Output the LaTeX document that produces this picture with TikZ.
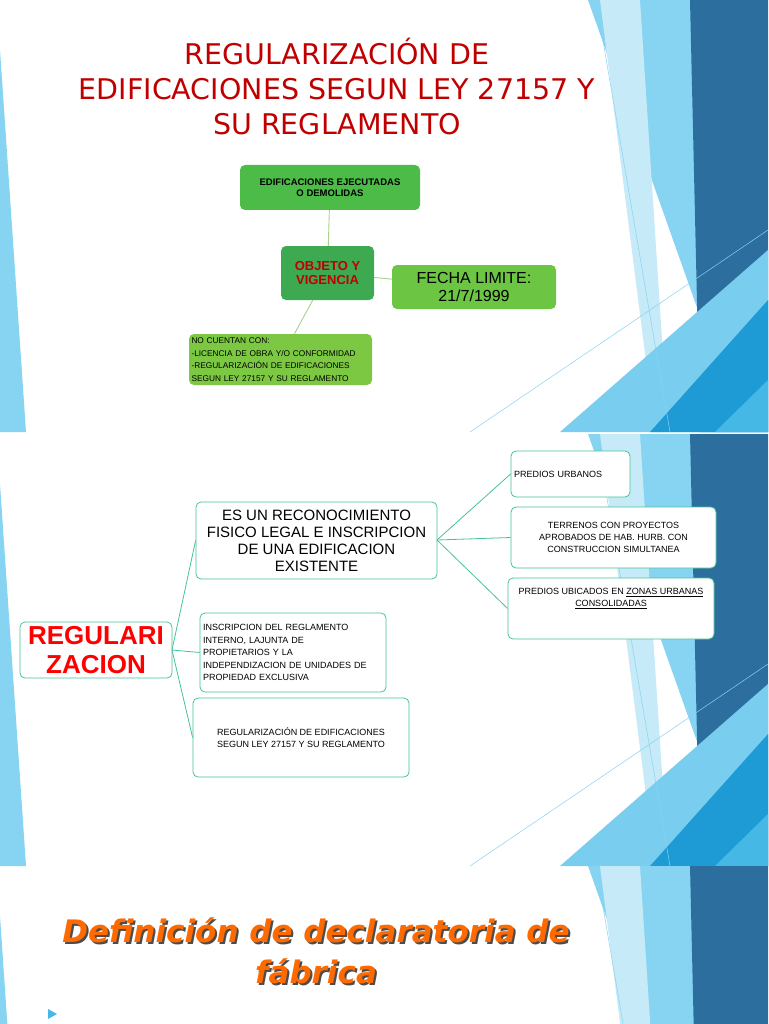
\documentclass[tikz,border=0pt]{standalone}
\usepackage{fontspec}
\setmainfont{Liberation Sans}
\newfontfamily\djf{DejaVu Sans}
\definecolor{lb}{HTML}{86D3F2}
\definecolor{pb}{HTML}{C6EAF8}
\definecolor{db}{HTML}{2C6E9E}
\definecolor{mb}{HTML}{45B8E6}
\definecolor{bb}{HTML}{1E9BD4}
\definecolor{tred}{HTML}{C00000}
\definecolor{g1}{HTML}{4CBB47}
\definecolor{g2}{HTML}{3DAA52}
\definecolor{g3}{HTML}{6CC644}
\definecolor{g4}{HTML}{7DC843}
\definecolor{gl}{HTML}{A8D08D}
\definecolor{teal}{HTML}{46C39A}
\definecolor{org}{HTML}{FF6A00}
\tikzset{
 gbox/.style={rounded corners=5pt,draw=none,inner sep=2pt,align=center},
 wbox/.style={rounded corners=5pt,draw=teal,line width=0.8pt,fill=white,inner sep=3pt},
 gcon/.style={draw=gl,line width=0.9pt},
 tcon/.style={draw=teal,line width=0.8pt},
 dtitle/.style={align=center,font=\djf\bfseries\itshape\fontsize{31}{41}\selectfont},
}
\newcommand{\deco}[2]{%
 \begin{scope}[yshift=#1*-1pt]
 \clip (0,0) rectangle (768,#2);
 \fill[lb] (0,50) -- (0,432) -- (26,432) -- cycle;
 \fill[lb] (588,0) -- (692,0) -- (705,330) -- cycle;
 \fill[pb] (600,0) -- (640,0) -- (668,432) -- (655,432) -- cycle;
 \fill[db] (690,0) -- (768,0) -- (768,432) -- (700,432) -- cycle;
 \fill[lb!80!mb] (560,432) -- (768,432) -- (768,250) -- cycle;
 \fill[bb] (650,432) -- (768,432) -- (768,300) -- cycle;
 \fill[mb] (715,432) -- (768,432) -- (768,380) -- cycle;
 \draw[lb,line width=0.5pt] (470,432) -- (768,230);
 \draw[lb,line width=0.5pt] (596,0) -- (670,432);
 \end{scope}}
\begin{document}
\begin{tikzpicture}[x=1pt,y=-1pt]
\useasboundingbox (0,0) rectangle (768,1024);
\fill[white] (0,0) rectangle (768,1024);
\deco{0}{432}
\deco{434}{432}
\deco{866}{158}
% slide 1
\node[text=tred,align=center,font=\djf\fontsize{28.5}{35}\selectfont] (title) at (337,86)
 {REGULARIZACIÓN DE\\EDIFICACIONES SEGUN LEY 27157 Y\\SU REGLAMENTO};
\node[gbox,fill=g1,minimum width=180pt,minimum height=45pt,font=\bfseries\fontsize{9.5}{11}\selectfont] (ed) at (330,187.5)
 {EDIFICACIONES EJECUTADAS\\O DEMOLIDAS};
\node[gbox,fill=g2,minimum width=93pt,minimum height=54pt,text=tred,font=\bfseries\fontsize{13}{14}\selectfont] (ob) at (327.5,273)
 {OBJETO Y\\VIGENCIA};
\node[gbox,fill=g3,minimum width=164pt,minimum height=44pt,font=\fontsize{16}{18}\selectfont] (fe) at (474,287)
 {FECHA LIMITE:\\21/7/1999};
\node[gbox,fill=g4,minimum width=183pt,minimum height=51pt,text width=178pt,align=left,font=\fontsize{8.3}{12.5}\selectfont] (nc) at (280.5,359.5)
 {NO CUENTAN CON:\\-LICENCIA DE OBRA Y/O CONFORMIDAD\\-REGULARIZACIÓN DE EDIFICACIONES\\SEGUN LEY 27157 Y SU REGLAMENTO};
\draw[gcon] (ed) -- (ob);
\draw[gcon] (ob) -- (fe);
\draw[gcon] (ob) -- (nc);
% slide 2
\node[wbox,minimum width=152pt,minimum height=56pt,align=center,text=red,font=\bfseries\fontsize{26}{29}\selectfont] (reg) at (96,650)
 {REGULARI\\ZACION};
\node[wbox,minimum width=241pt,minimum height=77pt,align=center,font=\fontsize{15}{17}\selectfont] (es) at (316.5,540.5)
 {ES UN RECONOCIMIENTO\\FISICO LEGAL E INSCRIPCION\\DE UNA EDIFICACION\\EXISTENTE};
\node[wbox,minimum width=119pt,minimum height=46pt,text width=113pt,align=left,font=\fontsize{9}{11}\selectfont] (pu) at (570.5,474)
 {PREDIOS URBANOS};
\node[wbox,minimum width=205pt,minimum height=61pt,align=center,font=\fontsize{9}{12}\selectfont] (te) at (613.5,537.5)
 {TERRENOS CON PROYECTOS\\APROBADOS DE HAB. HURB. CON\\CONSTRUCCION SIMULTANEA};
\node[wbox,minimum width=206pt,minimum height=61pt,align=center,font=\fontsize{9}{12}\selectfont] (pz) at (611,608.5)
 {PREDIOS UBICADOS EN \underline{ZONAS URBANAS}\\\underline{CONSOLIDADAS}\\[10pt]};
\node[wbox,minimum width=186pt,minimum height=79pt,text width=180pt,align=left,font=\fontsize{9}{12.5}\selectfont] (in) at (293,652.5)
 {INSCRIPCION DEL REGLAMENTO\\INTERNO, LAJUNTA DE\\PROPIETARIOS Y LA\\INDEPENDIZACION DE UNIDADES DE\\PROPIEDAD EXCLUSIVA};
\node[wbox,minimum width=216pt,minimum height=79pt,align=center,font=\fontsize{9}{12}\selectfont] (rl) at (301,737.5)
 {REGULARIZACIÓN DE EDIFICACIONES\\SEGUN LEY 27157 Y SU REGLAMENTO};
\coordinate (rr) at (172,650);
\coordinate (er) at (437,540);
\draw[tcon] (rr) -- (es.west);
\draw[tcon] (rr) -- (in.west);
\draw[tcon] (rr) -- (rl.west);
\draw[tcon] (er) -- (pu.west);
\draw[tcon] (er) -- (te.west);
\draw[tcon] (er) -- (pz.west);
% slide 3
\node[dtitle,text=black!70] (dfs) at (318,953) {Definición de declaratoria de\\fábrica};
\node[dtitle,text=org] (df) at (316,951) {Definición de declaratoria de\\fábrica};
\fill[mb] (48,1009) -- (57,1014) -- (48,1019) -- cycle;
\end{tikzpicture}
\end{document}
